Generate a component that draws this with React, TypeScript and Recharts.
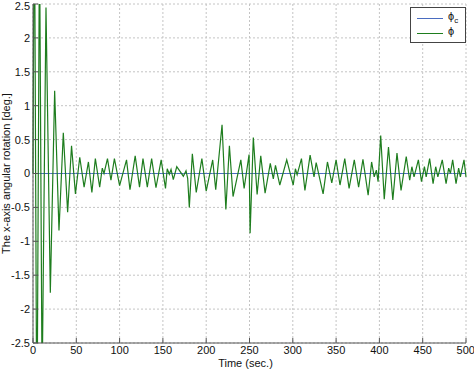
import { LineChart, Line, XAxis, YAxis, CartesianGrid } from 'recharts'

// time stamps (sec.) of the turning points
const TIME = [
  0, 1.5, 4.5, 7.5, 10.5, 15, 20, 25, 30, 35, 40, 44.5, 49, 54, 59, 64, 68, 72, 77, 80,
  82, 86, 90, 94, 100, 108, 112, 118, 123, 127, 132, 137, 142, 148, 153, 155, 157.4, 159.4,
  162, 166, 173.6, 176.7, 178.6, 180.5, 184, 188.5, 195, 200, 207.5, 211, 218.3, 222.7,
  226.8, 231, 240, 243.8, 249.5, 250.7, 254.4, 258.8, 263, 268, 274, 277.5, 280, 285, 293,
  300.5, 303, 305, 310, 314, 320, 324.5, 327, 335, 340, 345, 350, 354.5, 360, 365, 371, 376,
  381, 387, 391, 394, 396.5, 398.5, 401.5, 405.6, 410.5, 415.5, 420.3, 425, 431, 435, 437.5,
  440, 445, 448.6, 452, 454, 458, 462, 465, 467.5, 472.6, 477, 480, 482, 484.6, 488.5,
  491.5, 493.5, 497.7, 500,
]

// phi, the x-axis angular rotation [deg.]
const PHI = [
  0, 4.5, -4.2, 3.6, -3.2, 2.45, -1.76, 1.22, -0.84, 0.6, -0.57, 0.41, -0.3, 0.24, -0.2, 0.17, -0.28, 0.22, -0.2, 0.08,
  0, 0.22, -0.1, 0.22, -0.18, 0.2, -0.24, 0.26, -0.2, 0.22, -0.2, 0.22, -0.21, 0.2, -0.22, 0.07, -0.01, 0.06,
  -0.09, 0.1, -0.04, 0.04, -0.07, -0.5, 0.29, -0.28, 0.22, -0.26, 0.2, -0.24, 0.72, -0.53,
  0.41, -0.34, 0.2, -0.22, 0.28, -0.88, 0.53, -0.31, 0.26, -0.29, 0.15, -0.08, 0.12, -0.17, 0.2,
  -0.17, 0.07, -0.02, 0.22, -0.25, 0.27, -0.05, 0.16, -0.3, 0.17, -0.14, 0.2, -0.17, 0.22, -0.22, 0.2, -0.2,
  0.21, -0.32, 0.17, -0.05, 0.05, -0.12, 0.56, -0.38, 0.39, -0.39, 0.3, -0.25, 0.25, -0.1, 0.1,
  -0.05, 0.2, -0.12, 0.1, -0.05, 0.22, -0.15, 0.1, -0.05, 0.2, -0.15, 0.08, 0, 0.2, -0.15,
  0.08, -0.05, 0.2, -0.05,
]

// phi_c, the commanded rotation
const PHI_C = 0

const X_TICKS = [0, 50, 100, 150, 200, 250, 300, 350, 400, 450, 500]
const Y_TICKS = [-2.5, -2, -1.5, -1, -0.5, 0, 0.5, 1, 1.5, 2, 2.5]

const rows = TIME.map((t, i) => ({ t, phi: PHI[i], phiC: PHI_C }))

const FONT = '"Liberation Sans", Arial, sans-serif'
const AXIS = '#555'
const GREEN = '#1e7d1e'
const BLUE = '#4a6cc0'

const tickStyle = { fill: '#111', fontSize: 11, fontFamily: FONT }

const LegendBox = () => (
  <div
    style={{
      position: 'absolute',
      left: 410,
      top: 7,
      width: 54,
      height: 34,
      border: '1px solid #444',
      background: '#fff',
      fontFamily: FONT,
      fontSize: 11,
      color: '#111',
    }}
  >
    <div style={{ position: 'absolute', left: 6, top: 10, width: 26, borderTop: `1px solid ${BLUE}` }} />
    <div style={{ position: 'absolute', left: 37, top: 2 }}>
      ϕ<sub style={{ fontSize: 8 }}>c</sub>
    </div>
    <div style={{ position: 'absolute', left: 6, top: 25, width: 26, borderTop: `1px solid ${GREEN}` }} />
    <div style={{ position: 'absolute', left: 37, top: 17 }}>ϕ</div>
  </div>
)

export default function App() {
  return (
    <div style={{ position: 'absolute', left: 0, top: 0, width: 474, height: 370, background: '#fff' }}>
      <LineChart width={474} height={370} data={rows} margin={{ top: 4, right: 8, left: 0, bottom: 0 }}>
        <CartesianGrid stroke="#c4c4c4" strokeDasharray="2 2" />
        <XAxis
          dataKey="t"
          type="number"
          domain={[0, 500]}
          ticks={X_TICKS}
          height={27}
          stroke={AXIS}
          tickSize={-5}
          tickMargin={8}
          tick={tickStyle}
          label={{ value: 'Time (sec.)', position: 'insideBottom', offset: 3, dx: -4, fill: '#111', fontSize: 11, fontFamily: FONT }}
        />
        <XAxis
          xAxisId="top"
          dataKey="t"
          type="number"
          orientation="top"
          domain={[0, 500]}
          ticks={X_TICKS}
          height={0}
          stroke={AXIS}
          tickSize={-5}
          tick={false}
        />
        <YAxis
          type="number"
          domain={[-2.5, 2.5]}
          ticks={Y_TICKS}
          allowDataOverflow
          width={33}
          stroke={AXIS}
          tickSize={-5}
          tickMargin={8}
          tick={tickStyle}
          label={{
            value: 'The x-axis angular rotation [deg.]',
            angle: -90,
            position: 'center',
            dx: -10,
            fill: '#111',
            fontSize: 11,
            fontFamily: FONT,
          }}
        />
        <YAxis
          yAxisId="right"
          type="number"
          orientation="right"
          domain={[-2.5, 2.5]}
          ticks={Y_TICKS}
          width={0}
          stroke={AXIS}
          tickSize={-5}
          tick={false}
        />
        <Line dataKey="phiC" type="linear" stroke={BLUE} strokeWidth={1} dot={false} isAnimationActive={false} />
        <Line dataKey="phi" type="linear" stroke={GREEN} strokeWidth={1.2} dot={false} isAnimationActive={false} />
      </LineChart>
      <LegendBox />
    </div>
  )
}
